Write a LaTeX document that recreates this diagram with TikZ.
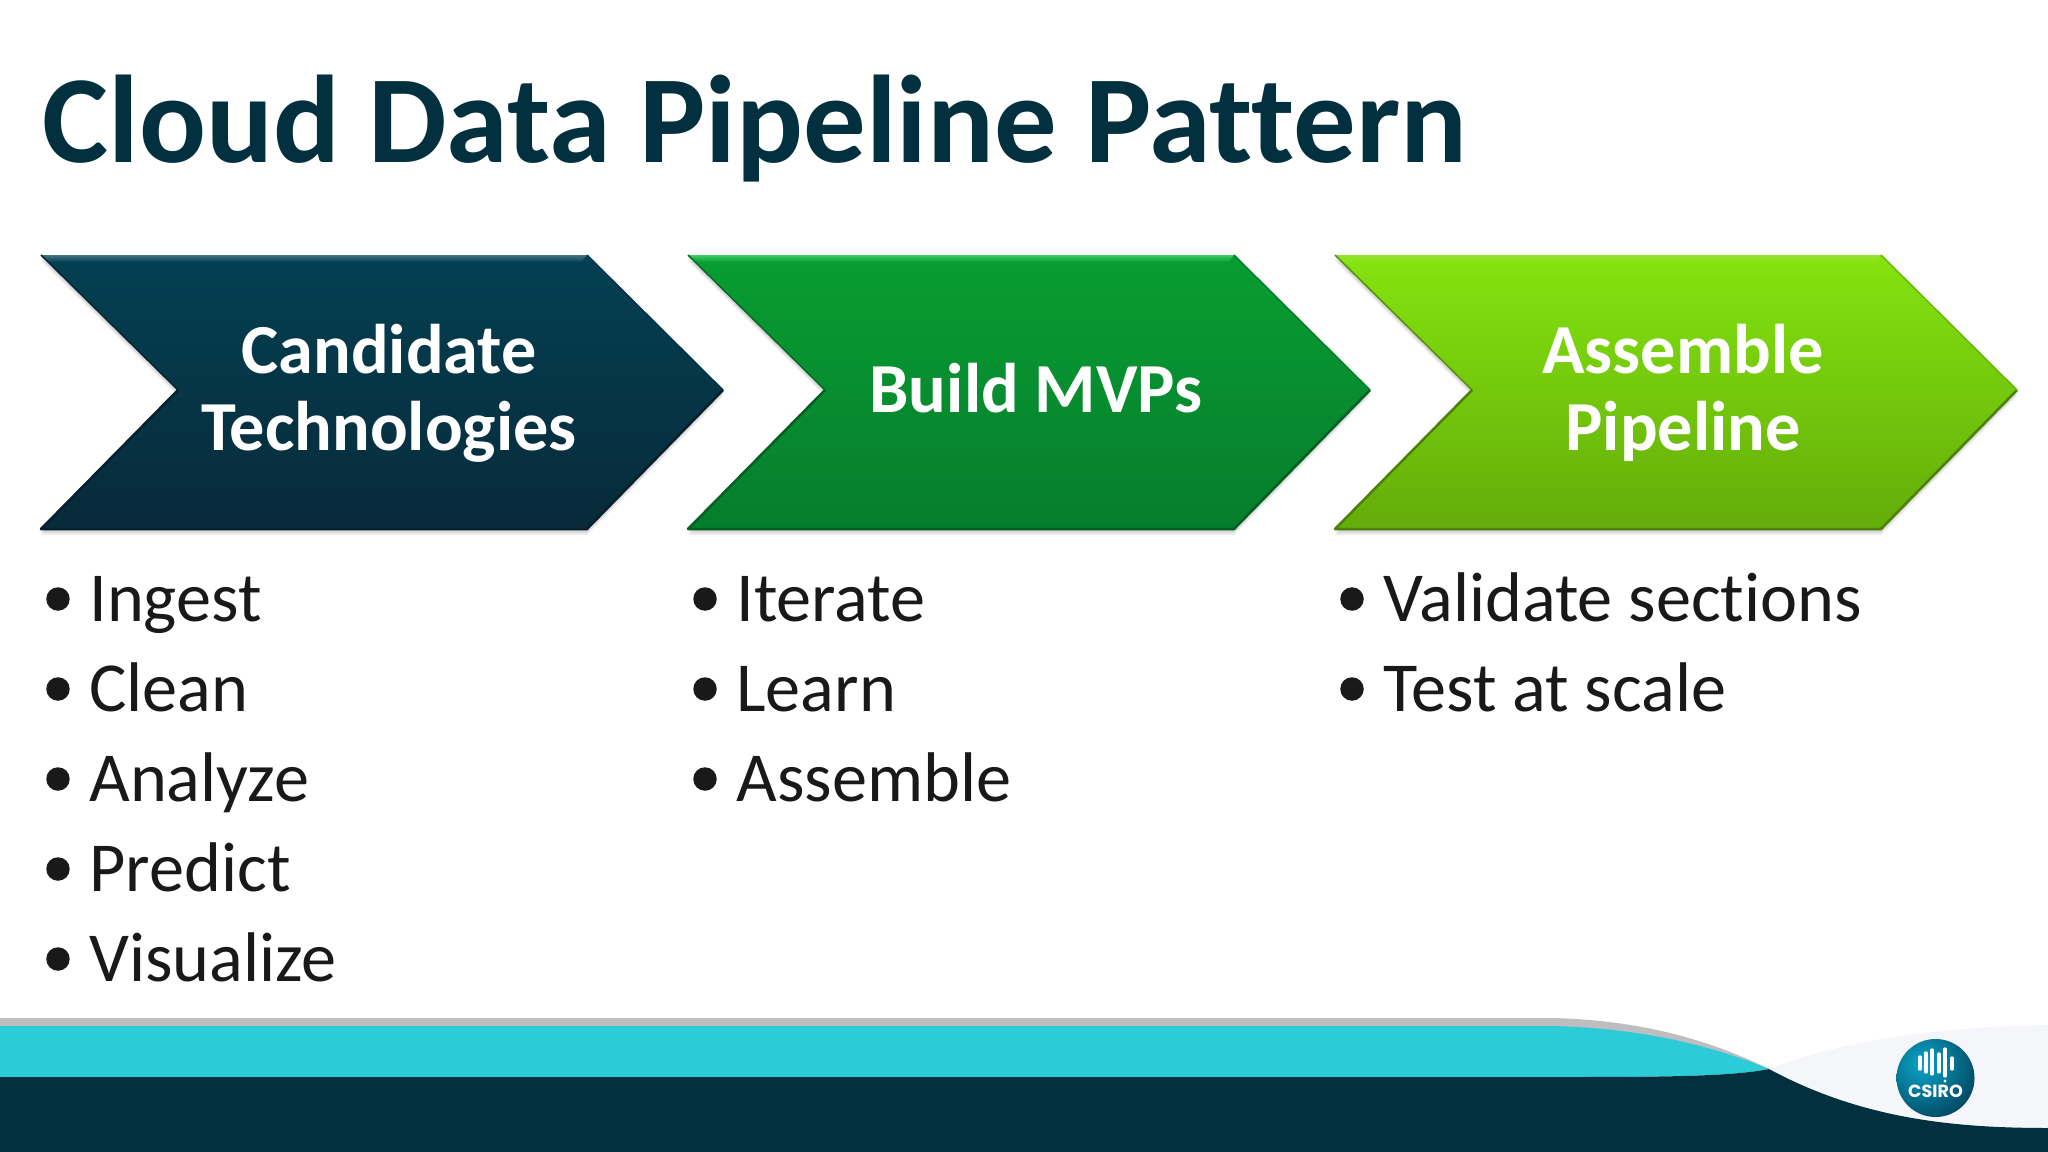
\documentclass[tikz,border=0pt]{standalone}
\usepackage{fontspec}
\setmainfont[Ligatures=NoCommon]{Carlito}
\newfontfamily\logofont{Poppins}
\usepackage{tikz}
\usetikzlibrary{positioning,calc}
\definecolor{Ink}{RGB}{3,48,62}
\definecolor{Band}{RGB}{43,204,216}
\definecolor{Rim}{RGB}{190,190,192}
\definecolor{Corner}{RGB}{245,246,250}
\definecolor{ChevAtop}{RGB}{3,64,82}
\definecolor{ChevAbot}{RGB}{8,42,58}
\definecolor{ChevAlit}{RGB}{70,115,130}
\definecolor{ChevBtop}{RGB}{8,157,50}
\definecolor{ChevBbot}{RGB}{6,125,45}
\definecolor{ChevBlit}{RGB}{60,205,100}
\definecolor{ChevCtop}{RGB}{132,228,15}
\definecolor{ChevCbot}{RGB}{100,172,10}
\definecolor{ChevClit}{RGB}{150,225,50}
\definecolor{LogoA}{RGB}{10,165,200}
\definecolor{LogoB}{RGB}{0,50,75}
\tikzset{
  heading/.style={text=Ink,font=\bfseries\fontsize{71}{71}\selectfont,anchor=base west,inner sep=0pt},
  chevlabel/.style={text=white,font=\bfseries\fontsize{40}{44}\selectfont,align=center,inner sep=0pt},
  point/.style={text=black!90,font=\fontsize{40}{40}\selectfont,anchor=base west,inner sep=0pt},
  dot/.style={circle,fill=black!90,inner sep=0pt,minimum size=0.47cm},
}
\newcommand{\chevronpath}[1]{(#1,255) -- ++(546,0) -- ++(136,135) -- ++(-136,139) -- ++(-546,0) -- ++(137,-139) -- cycle}
\begin{document}
\begin{tikzpicture}[x=0.02cm,y=-0.02cm]
  \useasboundingbox (0,0) rectangle (2048,1152);
  \fill[white] (0,0) rectangle (2048,1152);
  % Title
  \node[heading] (title) at (42,163) {Cloud Data Pipeline Pattern};
  % Chevrons
  \foreach \x/\ctop/\cbot/\clit in {41/ChevAtop/ChevAbot/ChevAlit,688/ChevBtop/ChevBbot/ChevBlit,1335/ChevCtop/ChevCbot/ChevClit} {
    % soft shadow
    \foreach \s in {2,4,6} {
      \fill[black,opacity=0.07,yshift=-\s*0.02cm] \chevronpath{\x};
    }
    \shade[top color=\ctop,bottom color=\cbot] \chevronpath{\x};
    % bevel
    \shade[top color=\clit,bottom color=\ctop] (\x,255) -- ++(546,0) -- ++(-6,7) -- ++(-532,0) -- cycle;
    \draw[\cbot!75!black,line width=0.05cm,line join=round] (\x+682,390) -- (\x+546,529) -- (\x,529) -- (\x+137,390);
    \draw[\cbot!85!black,line width=0.03cm,line join=round] (\x+137,390) -- (\x,255);
    \draw[\ctop!80!black,line width=0.03cm,line join=round] (\x+546,255) -- (\x+682,390);
  }
  \node[chevlabel] (candidate) at (389,393) {Candidate\\Technologies};
  \node[chevlabel] (mvps) at (1036,388) {Build MVPs};
  \node[chevlabel] (assemble) at (1683,393) {Assemble\\Pipeline};
  % Bullets
  \foreach \y/\txt in {0/Ingest,1/Clean,2/Analyze,3/Predict,4/Visualize} {
    \node[dot] (a\y) at (58,599+90*\y) {};
    \node[point] (ta\y) at (89,621+90*\y) {\txt};
  }
  \foreach \y/\txt in {0/Iterate,1/Learn,2/Assemble} {
    \node[dot] (b\y) at (705,599+90*\y) {};
    \node[point] (tb\y) at (736,621+90*\y) {\txt};
  }
  \foreach \y/\txt in {0/Validate sections,1/Test at scale} {
    \node[dot] (c\y) at (1352,599+90*\y) {};
    \node[point] (tc\y) at (1383,621+90*\y) {\txt};
  }
  % Footer
  \fill[Corner] (1769,1069) .. controls (1840,1042) and (1930,1027) .. (2048,1025) -- (2048,1130) .. controls (1940,1130) and (1870,1120) .. cycle;
  \fill[Rim] (0,1018) -- (1552,1018) .. controls (1640,1020) and (1710,1040) .. (1769,1069) -- (0,1077) -- cycle;
  \fill[Band] (0,1026) -- (1552,1026) .. controls (1640,1028) and (1710,1045) .. (1769,1069) .. controls (1730,1077) and (1650,1077) .. (1552,1077) -- (0,1077) -- cycle;
  \fill[Ink] (0,1077) -- (1552,1077) .. controls (1650,1077) and (1730,1077) .. (1769,1069) .. controls (1860,1118) and (1950,1128) .. (2048,1128) -- (2048,1152) -- (0,1152) -- cycle;
  % Logo
  \begin{scope}
    \clip (1935.5,1078) circle (39);
    \shade[inner color=LogoA,outer color=LogoB] (1922,1064) circle (72);
  \end{scope}
  \foreach \x/\a/\b in {1920/1057/1069,1926/1053/1072,1932/1050/1074,1939/1054/1072,1945/1049/1076,1952/1058/1069} {
    \draw[white,line width=0.065cm,line cap=round] (\x,\a) -- (\x,\b);
  }
  \fill[white] (1945,1081) circle (1.7);
  \node[text=white,font=\logofont\bfseries\fontsize{10}{10}\selectfont,inner sep=0pt] (csiro) at (1935.5,1091) {CSIRO};
\end{tikzpicture}
\end{document}
